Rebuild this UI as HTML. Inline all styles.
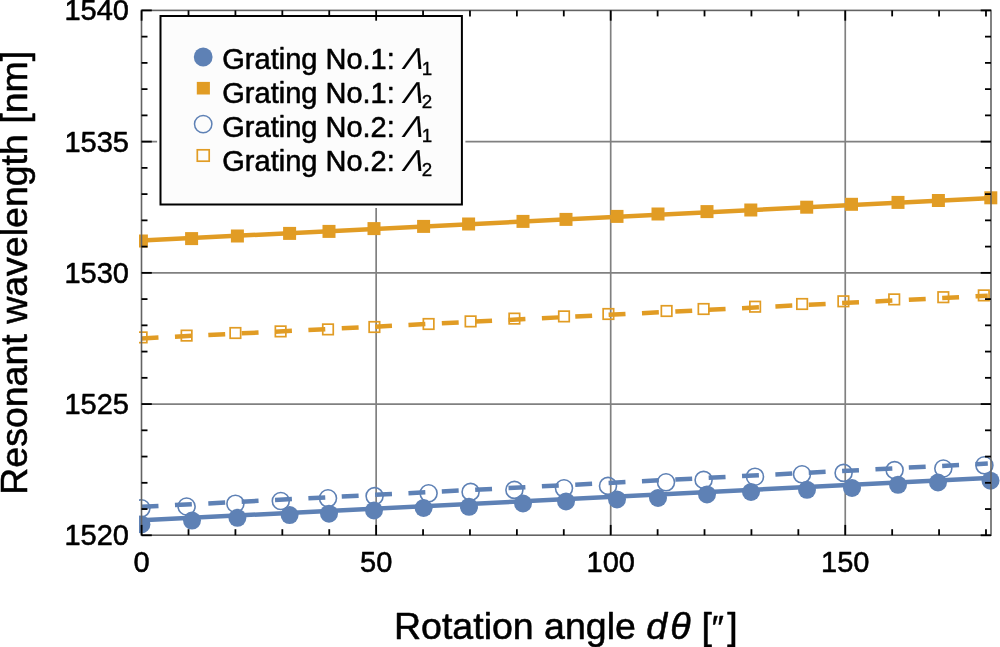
<!DOCTYPE html>
<html lang="en"><head><meta charset="utf-8"><title>Resonant wavelength vs rotation angle</title>
<style>html,body{margin:0;padding:0;background:#fff}svg{display:block}text{font-family:"Liberation Sans",sans-serif;fill:#000;stroke:#000;stroke-width:.55px;stroke-linejoin:round}</style></head><body>
<svg width="1000" height="647" viewBox="0 0 1000 647">
<rect width="1000" height="647" fill="#fff"/>
<defs><clipPath id="pc"><rect x="139" y="8" width="861" height="529.5"/></clipPath></defs>
<g stroke="#808080" stroke-width="1.7" fill="none">
<line x1="376.15" y1="10.4" x2="376.15" y2="535.2"/>
<line x1="610.70" y1="10.4" x2="610.70" y2="535.2"/>
<line x1="845.25" y1="10.4" x2="845.25" y2="535.2"/>
<line x1="141.5" y1="404.07" x2="991.0" y2="404.07"/>
<line x1="141.5" y1="272.85" x2="991.0" y2="272.85"/>
<line x1="141.5" y1="141.62" x2="991.0" y2="141.62"/>
</g>
<g clip-path="url(#pc)">
<line x1="141.6" y1="338.40" x2="987.8" y2="295.75" stroke="#E19C24" stroke-width="4.5" stroke-dasharray="16.9 16.5"/>
<line x1="141.6" y1="506.80" x2="987.8" y2="463.56" stroke="#5E81B5" stroke-width="4.5" stroke-dasharray="16.9 16.5"/>
<line x1="141.6" y1="240.50" x2="987.8" y2="198.36" stroke="#E19C24" stroke-width="4.5"/>
<line x1="141.6" y1="520.30" x2="987.8" y2="477.99" stroke="#5E81B5" stroke-width="4.5"/>
<g fill="none" stroke="#E19C24" stroke-width="1.7">
<rect x="136.35" y="332.15" width="10.5" height="10.5"/>
<rect x="181.35" y="330.35" width="10.5" height="10.5"/>
<rect x="230.15" y="327.75" width="10.5" height="10.5"/>
<rect x="275.35" y="326.15" width="10.5" height="10.5"/>
<rect x="322.75" y="324.15" width="10.5" height="10.5"/>
<rect x="369.15" y="321.75" width="10.5" height="10.5"/>
<rect x="423.35" y="318.75" width="10.5" height="10.5"/>
<rect x="465.35" y="316.15" width="10.5" height="10.5"/>
<rect x="509.15" y="313.35" width="10.5" height="10.5"/>
<rect x="558.75" y="311.15" width="10.5" height="10.5"/>
<rect x="603.15" y="308.75" width="10.5" height="10.5"/>
<rect x="661.35" y="305.75" width="10.5" height="10.5"/>
<rect x="698.35" y="303.75" width="10.5" height="10.5"/>
<rect x="749.85" y="301.45" width="10.5" height="10.5"/>
<rect x="796.85" y="298.75" width="10.5" height="10.5"/>
<rect x="838.15" y="296.05" width="10.5" height="10.5"/>
<rect x="888.95" y="294.15" width="10.5" height="10.5"/>
<rect x="938.05" y="291.95" width="10.5" height="10.5"/>
<rect x="978.55" y="290.15" width="10.5" height="10.5"/>
</g>
<g fill="none" stroke="#5E81B5" stroke-width="1.6">
<circle cx="141.4" cy="508.3" r="8.5"/>
<circle cx="186.6" cy="506.5" r="8.5"/>
<circle cx="235.4" cy="503.7" r="8.5"/>
<circle cx="280.8" cy="501.0" r="8.5"/>
<circle cx="328" cy="498.3" r="8.5"/>
<circle cx="374.6" cy="496.1" r="8.5"/>
<circle cx="428.6" cy="493.3" r="8.5"/>
<circle cx="470.6" cy="491.9" r="8.5"/>
<circle cx="514.4" cy="489.9" r="8.5"/>
<circle cx="564" cy="488.3" r="8.5"/>
<circle cx="608" cy="485.9" r="8.5"/>
<circle cx="666" cy="482.3" r="8.5"/>
<circle cx="703.6" cy="479.9" r="8.5"/>
<circle cx="755" cy="476.7" r="8.5"/>
<circle cx="802" cy="474.3" r="8.5"/>
<circle cx="843.6" cy="472.9" r="8.5"/>
<circle cx="894.6" cy="470.1" r="8.5"/>
<circle cx="943.3" cy="468.5" r="8.5"/>
<circle cx="984.4" cy="465.3" r="8.5"/>
</g>
<g fill="#E19C24">
<rect x="134.90" y="234.50" width="13" height="13"/>
<rect x="185.10" y="232.10" width="13" height="13"/>
<rect x="230.90" y="229.50" width="13" height="13"/>
<rect x="283.10" y="226.90" width="13" height="13"/>
<rect x="322.50" y="224.90" width="13" height="13"/>
<rect x="367.50" y="222.10" width="13" height="13"/>
<rect x="417.10" y="219.90" width="13" height="13"/>
<rect x="462.10" y="217.50" width="13" height="13"/>
<rect x="516.50" y="214.90" width="13" height="13"/>
<rect x="559.50" y="212.90" width="13" height="13"/>
<rect x="610.50" y="209.90" width="13" height="13"/>
<rect x="651.50" y="207.50" width="13" height="13"/>
<rect x="700.50" y="205.10" width="13" height="13"/>
<rect x="744.30" y="203.50" width="13" height="13"/>
<rect x="800.20" y="200.70" width="13" height="13"/>
<rect x="845.00" y="197.80" width="13" height="13"/>
<rect x="891.50" y="195.90" width="13" height="13"/>
<rect x="931.90" y="194.00" width="13" height="13"/>
<rect x="984.30" y="191.30" width="13" height="13"/>
</g>
<g fill="#5E81B5">
<circle cx="141.4" cy="524.4" r="9"/>
<circle cx="192" cy="520.6" r="9"/>
<circle cx="237.4" cy="517.8" r="9"/>
<circle cx="289.6" cy="515.1" r="9"/>
<circle cx="329" cy="513.7" r="9"/>
<circle cx="374" cy="510.5" r="9"/>
<circle cx="423.6" cy="508.0" r="9"/>
<circle cx="469" cy="506.8" r="9"/>
<circle cx="523" cy="503.5" r="9"/>
<circle cx="566" cy="501.4" r="9"/>
<circle cx="617" cy="499.4" r="9"/>
<circle cx="658" cy="498.0" r="9"/>
<circle cx="707" cy="494.4" r="9"/>
<circle cx="751" cy="492.0" r="9"/>
<circle cx="807" cy="489.8" r="9"/>
<circle cx="852" cy="488.0" r="9"/>
<circle cx="898" cy="484.8" r="9"/>
<circle cx="938" cy="482.5" r="9"/>
<circle cx="990.5" cy="480.7" r="9"/>
</g>
</g>
<rect x="157.1" y="12.6" width="308.3" height="195.4" fill="#fff"/>
<rect x="160.5" y="16" width="301.4" height="188.5" fill="#fcfcfc" stroke="#000" stroke-width="2"/>
<circle cx="203.2" cy="57" r="9.4" fill="#5E81B5"/>
<rect x="196.8" y="81.9" width="13.1" height="12.6" fill="#E19C24"/>
<circle cx="203.2" cy="124.1" r="8.7" fill="none" stroke="#5E81B5" stroke-width="1.5"/>
<rect x="197.3" y="149.8" width="11.9" height="11.4" fill="none" stroke="#E19C24" stroke-width="1.7"/>
<text x="222.3" y="69.2" font-size="29">Grating No.1:</text>
<text transform="translate(403.0 69.2) skewX(-7)" font-size="30" font-style="italic" style="stroke-width:.1px">Λ</text>
<text x="421.7" y="74.6" font-size="18.8" style="stroke-width:.35px">1</text>
<text x="222.3" y="102.9" font-size="29">Grating No.1:</text>
<text transform="translate(403.0 102.9) skewX(-7)" font-size="30" font-style="italic" style="stroke-width:.1px">Λ</text>
<text x="421.7" y="108.3" font-size="18.8" style="stroke-width:.35px">2</text>
<text x="222.3" y="137.0" font-size="29">Grating No.2:</text>
<text transform="translate(403.0 137.0) skewX(-7)" font-size="30" font-style="italic" style="stroke-width:.1px">Λ</text>
<text x="421.7" y="142.4" font-size="18.8" style="stroke-width:.35px">1</text>
<text x="222.3" y="170.7" font-size="29">Grating No.2:</text>
<text transform="translate(403.0 170.7) skewX(-7)" font-size="30" font-style="italic" style="stroke-width:.1px">Λ</text>
<text x="421.7" y="176.1" font-size="18.8" style="stroke-width:.35px">2</text>
<rect x="141.5" y="10.4" width="849.5" height="524.8000000000001" fill="none" stroke="#636363" stroke-width="1.6"/>
<g stroke="#000" stroke-width="1.8" fill="none">
<line x1="141.60" y1="535.2" x2="141.60" y2="524.9000000000001"/>
<line x1="141.60" y1="10.4" x2="141.60" y2="20.700000000000003"/>
<line x1="188.51" y1="535.2" x2="188.51" y2="529.2"/>
<line x1="188.51" y1="10.4" x2="188.51" y2="16.4"/>
<line x1="235.42" y1="535.2" x2="235.42" y2="529.2"/>
<line x1="235.42" y1="10.4" x2="235.42" y2="16.4"/>
<line x1="282.33" y1="535.2" x2="282.33" y2="529.2"/>
<line x1="282.33" y1="10.4" x2="282.33" y2="16.4"/>
<line x1="329.24" y1="535.2" x2="329.24" y2="529.2"/>
<line x1="329.24" y1="10.4" x2="329.24" y2="16.4"/>
<line x1="376.15" y1="535.2" x2="376.15" y2="524.9000000000001"/>
<line x1="376.15" y1="10.4" x2="376.15" y2="20.700000000000003"/>
<line x1="423.06" y1="535.2" x2="423.06" y2="529.2"/>
<line x1="423.06" y1="10.4" x2="423.06" y2="16.4"/>
<line x1="469.97" y1="535.2" x2="469.97" y2="529.2"/>
<line x1="469.97" y1="10.4" x2="469.97" y2="16.4"/>
<line x1="516.88" y1="535.2" x2="516.88" y2="529.2"/>
<line x1="516.88" y1="10.4" x2="516.88" y2="16.4"/>
<line x1="563.79" y1="535.2" x2="563.79" y2="529.2"/>
<line x1="563.79" y1="10.4" x2="563.79" y2="16.4"/>
<line x1="610.70" y1="535.2" x2="610.70" y2="524.9000000000001"/>
<line x1="610.70" y1="10.4" x2="610.70" y2="20.700000000000003"/>
<line x1="657.61" y1="535.2" x2="657.61" y2="529.2"/>
<line x1="657.61" y1="10.4" x2="657.61" y2="16.4"/>
<line x1="704.52" y1="535.2" x2="704.52" y2="529.2"/>
<line x1="704.52" y1="10.4" x2="704.52" y2="16.4"/>
<line x1="751.43" y1="535.2" x2="751.43" y2="529.2"/>
<line x1="751.43" y1="10.4" x2="751.43" y2="16.4"/>
<line x1="798.34" y1="535.2" x2="798.34" y2="529.2"/>
<line x1="798.34" y1="10.4" x2="798.34" y2="16.4"/>
<line x1="845.25" y1="535.2" x2="845.25" y2="524.9000000000001"/>
<line x1="845.25" y1="10.4" x2="845.25" y2="20.700000000000003"/>
<line x1="892.16" y1="535.2" x2="892.16" y2="529.2"/>
<line x1="892.16" y1="10.4" x2="892.16" y2="16.4"/>
<line x1="939.07" y1="535.2" x2="939.07" y2="529.2"/>
<line x1="939.07" y1="10.4" x2="939.07" y2="16.4"/>
<line x1="985.98" y1="535.2" x2="985.98" y2="529.2"/>
<line x1="985.98" y1="10.4" x2="985.98" y2="16.4"/>
<line x1="141.5" y1="535.30" x2="151.8" y2="535.30"/>
<line x1="991.0" y1="535.30" x2="980.7" y2="535.30"/>
<line x1="141.5" y1="509.05" x2="147.5" y2="509.05"/>
<line x1="991.0" y1="509.05" x2="985.0" y2="509.05"/>
<line x1="141.5" y1="482.81" x2="147.5" y2="482.81"/>
<line x1="991.0" y1="482.81" x2="985.0" y2="482.81"/>
<line x1="141.5" y1="456.56" x2="147.5" y2="456.56"/>
<line x1="991.0" y1="456.56" x2="985.0" y2="456.56"/>
<line x1="141.5" y1="430.32" x2="147.5" y2="430.32"/>
<line x1="991.0" y1="430.32" x2="985.0" y2="430.32"/>
<line x1="141.5" y1="404.07" x2="151.8" y2="404.07"/>
<line x1="991.0" y1="404.07" x2="980.7" y2="404.07"/>
<line x1="141.5" y1="377.83" x2="147.5" y2="377.83"/>
<line x1="991.0" y1="377.83" x2="985.0" y2="377.83"/>
<line x1="141.5" y1="351.58" x2="147.5" y2="351.58"/>
<line x1="991.0" y1="351.58" x2="985.0" y2="351.58"/>
<line x1="141.5" y1="325.34" x2="147.5" y2="325.34"/>
<line x1="991.0" y1="325.34" x2="985.0" y2="325.34"/>
<line x1="141.5" y1="299.09" x2="147.5" y2="299.09"/>
<line x1="991.0" y1="299.09" x2="985.0" y2="299.09"/>
<line x1="141.5" y1="272.85" x2="151.8" y2="272.85"/>
<line x1="991.0" y1="272.85" x2="980.7" y2="272.85"/>
<line x1="141.5" y1="246.60" x2="147.5" y2="246.60"/>
<line x1="991.0" y1="246.60" x2="985.0" y2="246.60"/>
<line x1="141.5" y1="220.36" x2="147.5" y2="220.36"/>
<line x1="991.0" y1="220.36" x2="985.0" y2="220.36"/>
<line x1="141.5" y1="194.11" x2="147.5" y2="194.11"/>
<line x1="991.0" y1="194.11" x2="985.0" y2="194.11"/>
<line x1="141.5" y1="167.87" x2="147.5" y2="167.87"/>
<line x1="991.0" y1="167.87" x2="985.0" y2="167.87"/>
<line x1="141.5" y1="141.62" x2="151.8" y2="141.62"/>
<line x1="991.0" y1="141.62" x2="980.7" y2="141.62"/>
<line x1="141.5" y1="115.38" x2="147.5" y2="115.38"/>
<line x1="991.0" y1="115.38" x2="985.0" y2="115.38"/>
<line x1="141.5" y1="89.13" x2="147.5" y2="89.13"/>
<line x1="991.0" y1="89.13" x2="985.0" y2="89.13"/>
<line x1="141.5" y1="62.89" x2="147.5" y2="62.89"/>
<line x1="991.0" y1="62.89" x2="985.0" y2="62.89"/>
<line x1="141.5" y1="36.64" x2="147.5" y2="36.64"/>
<line x1="991.0" y1="36.64" x2="985.0" y2="36.64"/>
<line x1="141.5" y1="10.40" x2="151.8" y2="10.40"/>
<line x1="991.0" y1="10.40" x2="980.7" y2="10.40"/>
</g>
<text x="141.60" y="572.4" font-size="29" text-anchor="middle">0</text>
<text x="376.15" y="572.4" font-size="29" text-anchor="middle">50</text>
<text x="610.70" y="572.4" font-size="29" text-anchor="middle">100</text>
<text x="845.25" y="572.4" font-size="29" text-anchor="middle">150</text>
<text x="129.0" y="545.30" font-size="29" text-anchor="end">1520</text>
<text x="129.0" y="414.07" font-size="29" text-anchor="end">1525</text>
<text x="129.0" y="282.85" font-size="29" text-anchor="end">1530</text>
<text x="129.0" y="151.62" font-size="29" text-anchor="end">1535</text>
<text x="129.0" y="20.40" font-size="29" text-anchor="end">1540</text>
<text x="394.0" y="639" font-size="37.5">Rotation angle <tspan font-style="italic">d<tspan dx="3">θ</tspan></tspan><tspan dx="0.5"> [</tspan><tspan font-size="34">″</tspan><tspan dx="3.4">]</tspan></text>
<text transform="translate(27.0 494.8) rotate(-90)" font-size="37.5">Resonant wavelength [nm]</text>
</svg></body></html>
